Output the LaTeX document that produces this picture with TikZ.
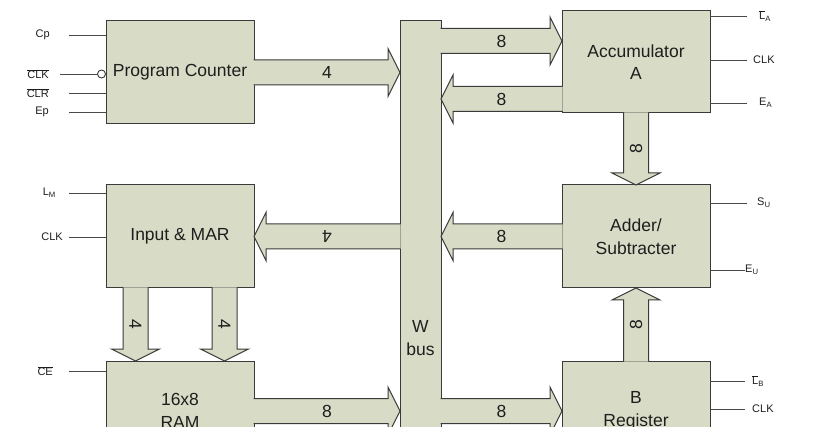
\documentclass[tikz,border=0pt]{standalone}
\usepackage{fontspec}
\setmainfont{Liberation Sans}
\usetikzlibrary{calc}
\definecolor{boxfill}{HTML}{D8DBC5}
\definecolor{boxedge}{HTML}{3A3A3A}
\definecolor{wireink}{HTML}{4A4A4A}
\definecolor{textink}{HTML}{1E1E1E}

\begin{document}
\begin{tikzpicture}[x=1pt, y=-1pt,
    every node/.style={textink},
    box/.style={draw=boxedge, fill=boxfill, line width=1pt, outer sep=0pt,
                inner sep=0pt, align=center, font=\fontsize{17.5}{22.5}\selectfont},
    blk/.style={box, minimum width=148pt, minimum height=103pt},
    num/.style={font=\fontsize{17.5}{21}\selectfont, inner sep=0pt},
    sigl/.style={font=\fontsize{11}{13}\selectfont, anchor=east, inner xsep=19pt, inner ysep=0pt},
    sigr/.style={font=\fontsize{11}{13}\selectfont, anchor=west, inner xsep=10pt, inner ysep=0pt},
    wire/.style={draw=wireink, line width=0.9pt},
    bubble/.style={circle, draw=boxedge, fill=white, line width=0.9pt,
                   minimum size=8pt, inner sep=0pt},
    fat/.style 2 args={draw=boxedge, fill=boxfill, line width=1pt, to path={
        (\tikztostart) coordinate (fst) (\tikztotarget) coordinate (ft)
        ($(fst)!-0.5pt!(ft)$) coordinate (fs)
        ($(ft)!12pt!(fst)$) coordinate (fb)
        ($(fs)!12.5pt!90:(ft)$) -- ($(fb)!12.5pt!-90:(fst)$) -- ($(fb)!24pt!-90:(fst)$)
          -- (ft) -- ($(fb)!24pt!90:(fst)$) -- ($(fb)!12.5pt!90:(fst)$)
          -- ($(fs)!12.5pt!-90:(ft)$)
        node[num, rotate=#2] at ($(fst)!.5!(ft)$) {#1}}}]

  \useasboundingbox (0,0) rectangle (813,427);
  \clip (0,0) rectangle (813,427);

  %% blocks
  \node[blk] (pc) at (180,72.5) {Program Counter};
  \node[blk] (mar) at (180,236.5) {Input \& MAR};
  \node[blk, minimum height=100pt] (ram) at (180,411) {16x8\\RAM};
  \node[box, minimum width=41pt, minimum height=460pt, anchor=north] (bus) at (420.5,21) {};
  \node[align=center, font=\fontsize{17.5}{23}\selectfont] (wbus) at (420.5,338) {W\\bus};
  \node[blk, minimum height=102pt] (acc) at (636,62) {Accumulator\\A};
  \node[blk] (add) at (636,236.5) {Adder/\\Subtracter};
  \node[blk, minimum height=100pt] (breg) at (636,411) {B\\Register};

  %% data paths
  \path ($(acc.west)+(0,-21)$) coordinate (accin) ($(acc.west)+(0,37)$) coordinate (accout);
  \path ($(mar.south)+(-44.5,0)$) coordinate (mlo) ($(mar.south)+(44.5,0)$) coordinate (mhi);
  \draw[fat={4}{0}] (pc.east) to (pc.east -| bus.west);
  \draw[fat={8}{0}] (accin -| bus.east) to (accin);
  \draw[fat={8}{0}] (accout) to (accout -| bus.east);
  \draw[fat={8}{90}] (acc.south) to (add.north);
  \draw[fat={8}{0}] (add.west) to (add.west -| bus.east);
  \draw[fat={4}{180}] (mar.east -| bus.west) to (mar.east);
  \draw[fat={8}{90}] (breg.north) to (add.south);
  \draw[fat={4}{-90}] (mlo) to (mlo |- ram.north);
  \draw[fat={4}{-90}] (mhi) to (mhi |- ram.north);
  \draw[fat={8}{0}] (ram.east) to (ram.east -| bus.west);
  \draw[fat={8}{0}] (breg.west -| bus.east) to (breg.west);

  %% control lines, left side
  \node[sigl] (cp) at (69,35) {Cp};
  \draw[wire] (cp.east) -- (cp.east -| pc.west);
  \node[sigl, inner xsep=11pt] (clkpc) at (60,74) {$\overline{\mbox{CLK}}$};
  \node[bubble] (bub) at (101.5,74) {};
  \draw[wire] (clkpc.east) -- (bub.west);
  \node[sigl, inner xsep=20pt] (clr) at (69,93) {$\overline{\mbox{CLR}}$};
  \draw[wire] (clr.east) -- (clr.east -| pc.west);
  \node[sigl, inner xsep=20pt] (ep) at (69,112) {Ep};
  \draw[wire] (ep.east) -- (ep.east -| pc.west);
  \node[sigl, inner xsep=13pt] (lm) at (69,193) {L\textsubscript{M}};
  \draw[wire] (lm.east) -- (lm.east -| mar.west);
  \node[sigl, inner xsep=6pt] (clkm) at (69,237) {CLK};
  \draw[wire] (clkm.east) -- (clkm.east -| mar.west);
  \node[sigl, inner xsep=16pt] (ce) at (69,371) {$\overline{\mbox{CE}}$};
  \draw[wire] (ce.east) -- (ce.east -| ram.west);

  %% control lines, right side
  \node[sigr, inner xsep=12pt] (la) at (747,16) {$\overline{\mbox{L}}$\textsubscript{A}};
  \draw[wire] (la.west) -- (la.west -| acc.east);
  \node[sigr, inner xsep=6pt] (clka) at (747,60) {CLK};
  \draw[wire] (clka.west) -- (clka.west -| acc.east);
  \node[sigr, inner xsep=12pt] (ea) at (747,103) {E\textsubscript{A}};
  \draw[wire] (ea.west) -- (ea.west -| acc.east);
  \node[sigr] (su) at (747,203) {S\textsubscript{U}};
  \draw[wire] (su.west) -- (su.west -| add.east);
  \node[sigr, inner xsep=0pt] (eu) at (745,270) {E\textsubscript{U}};
  \draw[wire] (eu.west) -- (eu.west -| add.east);
  \node[sigr, inner xsep=7pt] (lb) at (745,381) {$\overline{\mbox{L}}$\textsubscript{B}};
  \draw[wire] (lb.west) -- (lb.west -| breg.east);
  \node[sigr, inner xsep=7pt] (clkb) at (745,409) {CLK};
  \draw[wire] (clkb.west) -- (clkb.west -| breg.east);

\end{tikzpicture}
\end{document}
